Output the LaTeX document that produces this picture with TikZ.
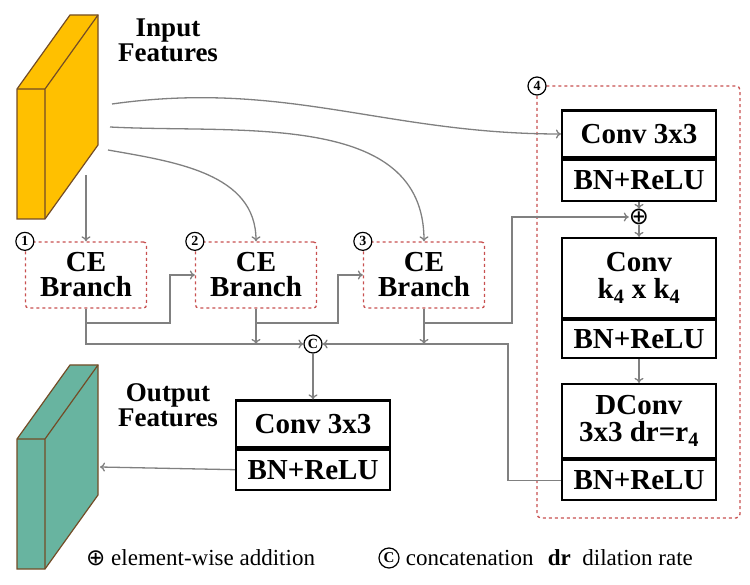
\documentclass[tikz,border=0pt]{standalone}
\usepackage{fontspec}
\setmainfont{Liberation Serif}
\newfontfamily\symfont{DejaVu Sans}
\usetikzlibrary{positioning}
\usetikzlibrary{arrows.meta}
\definecolor{inorange}{RGB}{255,192,0}
\definecolor{outteal}{RGB}{104,180,160}
\definecolor{dashred}{RGB}{200,80,80}

\tikzset{
 cebox/.style={draw=dashred,dashed,line width=1.3pt,rounded corners=3pt,minimum width=121pt,minimum height=66pt,align=center,font=\fontsize{29}{25}\selectfont\bfseries,inner sep=0pt},
 layer/.style={draw,line width=2.2pt,minimum width=154pt,align=center,font=\fontsize{29}{27}\selectfont\bfseries,inner sep=0pt},
 num/.style={circle,draw,line width=1.2pt,inner sep=0pt,minimum size=18pt,font=\fontsize{14}{14}\selectfont\bfseries,fill=white},
 flow/.style={draw=gray,line width=1.3pt,-{To[length=5pt,width=9pt]}},
 caption/.style={align=center,font=\fontsize{27}{25}\selectfont\bfseries},
 legtext/.style={anchor=west,font=\fontsize{23}{23}\selectfont,inner sep=0pt}
}

\begin{document}
\begin{tikzpicture}[x=1pt,y=-1pt]
 \useasboundingbox (0,0) rectangle (750,585);
 % feature maps
 \draw[draw=brown!60!black,line width=1.2pt,fill=inorange] (17,89)--(70,15)--(98,15)--(98,145)--(45,219)--(17,219)--cycle;
 \draw[draw=brown!60!black,line width=1.2pt] (17,89)--(45,89)--(98,15) (45,89)--(45,219);
 \draw[draw=brown!60!black,line width=1.2pt,fill=outteal] (17,439)--(70,365)--(98,365)--(98,495)--(45,569)--(17,569)--cycle;
 \draw[draw=brown!60!black,line width=1.2pt] (17,439)--(45,439)--(98,365) (45,439)--(45,569);
 \node[caption] (inlab) at (168,40) {Input\\Features};
 \node[caption] (outlab) at (168,405) {Output\\Features};
 \coordinate (outfeat) at (100,467);

 % CE branches
 \node[cebox] (ce1) at (86,275) {CE\\Branch};
 \node[cebox] (ce2) at (256,275) {CE\\Branch};
 \node[cebox] (ce3) at (424,275) {CE\\Branch};
 \node[num] (n1) at (ce1.north west) {1};
 \node[num] (n2) at (ce2.north west) {2};
 \node[num] (n3) at (ce3.north west) {3};

 % branch 4
 \draw[dashred,dashed,line width=1.3pt,rounded corners=4pt] (537,86) rectangle (740,518);
 \node[num] (n4) at (537,86) {4};
 \node[layer,minimum height=47pt] (c1) at (639,134) {Conv 3x3};
 \node[layer,minimum height=41pt,below=0pt of c1] (b1) {BN+ReLU};
 \node[font=\fontsize{24}{24}\selectfont\symfont,inner sep=0pt] (add) at (639,217) {⊕};
 \node[layer,minimum height=80pt] (c2) at (639,278) {Conv\\k\textsubscript{4} x k\textsubscript{4}};
 \node[layer,minimum height=38pt,below=0pt of c2] (b2) {BN+ReLU};
 \node[layer,minimum height=74pt] (c3) at (639,421) {DConv\\3x3 dr=r\textsubscript{4}};
 \node[layer,minimum height=40pt,below=0pt of c3] (b3) {BN+ReLU};

 % fusion
 \node[num] (cat) at (313,344) {C};
 \node[layer,minimum height=47pt] (c0) at (313,424) {Conv 3x3};
 \node[layer,minimum height=40pt,below=0pt of c0] (b0) {BN+ReLU};

 % connections
 \draw[flow] (86,175) -- (ce1.north);
 \draw[flow] (108,150) to[out=-10,in=90] (ce2.north);
 \draw[flow] (110,127) to[out=-3,in=90] (ce3.north);
 \draw[flow] (112,104) to[out=8,in=180] (c1.west);
 \draw[flow] (ce1.south) |- (170,323) |- (ce2.west);
 \draw[flow] (ce2.south) |- (338,323) |- (ce3.west);
 \draw[flow] (ce3.south) |- (512,323) |- (add.west);
 \draw[flow] (ce1.south) |- (cat.west);
 \draw[flow] (ce2.south) -- (ce2.south|-cat);
 \draw[flow] (ce3.south) -- (ce3.south|-cat);
 \draw[flow] (b3.west) -| (508,344) -- (cat.east);
 \draw[flow] (cat) -- (c0.north);
 \draw[flow] (b0.west) -- (outfeat);
 \draw[flow] (b1.south) -- (add.north);
 \draw[flow] (add.south) -- (c2.north);
 \draw[flow] (b2.south) -- (c3.north);

 % legend
 \node[legtext] (leg1) at (86,558) {{\symfont ⊕} element-wise addition};
 \node[num,minimum size=20pt,font=\fontsize{15}{15}\selectfont\bfseries] (legc) at (389,558) {C};
 \node[legtext,right=6pt of legc] (leg2) {concatenation};
 \node[legtext,right=14pt of leg2] (leg3) {\textbf{dr}\ \ dilation rate};
\end{tikzpicture}
\end{document}
